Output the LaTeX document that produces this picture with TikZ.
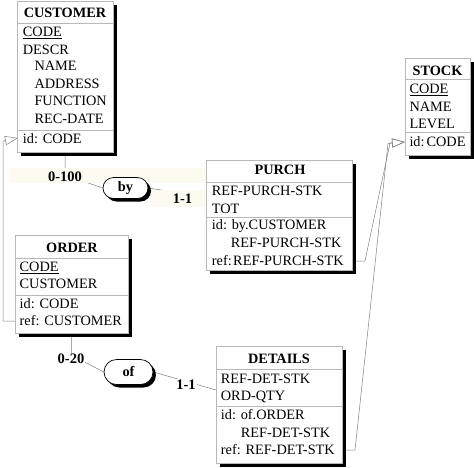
\documentclass[tikz,border=0pt]{standalone}
\usepackage{fontspec}
\setmainfont{Liberation Serif}
\usetikzlibrary{shadows,arrows.meta,shapes.misc,backgrounds}
\definecolor{boxgray}{gray}{0.72}
\definecolor{lingray}{gray}{0.5}
\definecolor{bandcol}{RGB}{253,250,242}
\begin{document}
\begin{tikzpicture}[x=1pt,y=-1pt,
  font=\fontsize{14.3}{17}\selectfont,
  ent/.style={draw=boxgray, fill=white, line width=0.6pt, anchor=north west, inner sep=0pt,
    drop shadow={shadow xshift=3.5pt, shadow yshift=-3.5pt, fill=black, opacity=1}},
  sepl/.style={draw=boxgray, line width=0.6pt},
  att/.style={anchor=base west, inner sep=0pt},
  ttl/.style={anchor=base, inner sep=0pt, font=\fontsize{14.3}{17}\selectfont\bfseries},
  rel/.style={rounded rectangle, draw=black, line width=0.7pt, fill=white, inner sep=0pt,
    font=\fontsize{14.3}{17}\selectfont\bfseries,
    drop shadow={shadow xshift=3pt, shadow yshift=-3pt, fill=black, opacity=1}},
  card/.style={font=\fontsize{14.5}{17}\selectfont\bfseries, inner sep=1pt, fill=white},
  conn/.style={draw=lingray, line width=0.5pt},
  isa/.style={-{Triangle[open, length=13pt, width=9pt]}}
]
\useasboundingbox (0,0) rectangle (474,467);

% ---------- CUSTOMER ----------
\node[ent, minimum width=96pt, minimum height=151pt] (cust) at (17,1) {};
\node[ttl] (custT) at (65,17.5) {CUSTOMER};
\draw[sepl] (17,23) -- (113,23);
\node[att] (custA1) at (22.7,36.5) {\underline{CODE}};
\node[att] (custA2) at (22.7,54.1) {DESCR};
\node[att] (custA3) at (34.3,70.8) {NAME};
\node[att] (custA4) at (34.3,88.1) {ADDRESS};
\node[att] (custA5) at (34.3,105.5) {FUNCTION};
\node[att] (custA6) at (34.3,123.1) {REC-DATE};
\draw[sepl] (17,130) -- (113,130);
\node[att] (custI) at (22.7,143.1) {id: CODE};

% ---------- ORDER ----------
\node[ent, minimum width=113pt, minimum height=98pt] (ord) at (15,235) {};
\node[ttl] (ordT) at (72,252.8) {ORDER};
\draw[sepl] (15,258) -- (128,258);
\node[att] (ordA1) at (19.5,271.5) {\underline{CODE}};
\node[att] (ordA2) at (19.5,288.8) {CUSTOMER};
\draw[sepl] (15,295) -- (128,295);
\node[att] (ordI) at (19.5,308.1) {id: CODE};
\node[att] (ordR) at (19.5,325.5) {ref: CUSTOMER};

% ---------- PURCH ----------
\node[ent, minimum width=146pt, minimum height=110pt] (pur) at (206,160) {};
\node[ttl] (purT) at (280,174.8) {PURCH};
\draw[sepl] (206,182) -- (352,182);
\node[att] (purA1) at (211.7,195.5) {REF-PURCH-STK};
\node[att] (purA2) at (211.7,213.1) {TOT};
\draw[sepl] (206,217.3) -- (352,217.3);
\node[att] (purI1) at (211.7,229.8) {id: by.CUSTOMER};
\node[att] (purI2) at (230.7,247.8) {REF-PURCH-STK};
\node[att] (purR) at (211.7,265.5) {ref:\hspace{1.5pt}REF-PURCH-STK};

% ---------- STOCK ----------
\node[ent, minimum width=65pt, minimum height=97pt] (stk) at (405,58) {};
\node[ttl] (stkT) at (437.5,75.5) {STOCK};
\draw[sepl] (405,79.3) -- (470,79.3);
\node[att] (stkA1) at (409.3,93.5) {\underline{CODE}};
\node[att] (stkA2) at (409.3,111.5) {NAME};
\node[att] (stkA3) at (409.3,128.1) {LEVEL};
\draw[sepl] (405,132) -- (470,132);
\node[att] (stkI) at (409.3,146.5) {id:\hspace{2pt}CODE};

% ---------- DETAILS ----------
\node[ent, minimum width=126pt, minimum height=117pt] (det) at (216,346) {};
\node[ttl] (detT) at (279,363.1) {DETAILS};
\draw[sepl] (216,369.3) -- (342,369.3);
\node[att] (detA1) at (220.7,383.1) {REF-DET-STK};
\node[att] (detA2) at (220.7,400.8) {ORD-QTY};
\draw[sepl] (216,406) -- (342,406);
\node[att] (detI1) at (220.7,419.1) {id: of.ORDER};
\node[att] (detI2) at (240.7,437.5) {REF-DET-STK};
\node[att] (detR) at (220.7,454.8) {ref: REF-DET-STK};

% ---------- relationships ----------
\node[rel, minimum width=45pt, minimum height=21pt] (by) at (125.5,188) {by};
\node[rel, minimum width=49pt, minimum height=25pt] (of) at (128.5,372) {of};

% connector end points
\coordinate (purIn) at (206,197);
\coordinate (detIn) at (216,390);
\coordinate (ordRef) at (15,321);
\coordinate (custId) at (18,138);
\coordinate (purRef) at (352,261);
\coordinate (detRef) at (342,450);
\coordinate (stkId) at (405,142);

\begin{scope}[on background layer]
  \draw[conn] (cust.south) -- (65,175) -- (by.west);
  \draw[conn] (by.east) -- (purIn);
  \draw[conn] (ord.south) -- (71.5,355) -- (of.west);
  \draw[conn] (of.east) -- (detIn);
  \draw[conn, isa] (ordRef) -- (3,321) -- (3,141) -- (custId);
  \draw[conn, isa] (purRef) -- (365,261) -- (390,143) -- (stkId);
  \draw[conn, isa] (detRef) -- (355,450) -- (388,143.5) -- (stkId);
  \fill[bandcol] (10,168) rectangle (206,183);
  \fill[bandcol] (150,190) rectangle (206,207);
\end{scope}

% ---------- cardinalities ----------
\node[card, fill=bandcol] (c1) at (65,177) {0-100};
\node[card, fill=bandcol] (c2) at (182.5,199) {1-1};
\node[card] (c3) at (71,359) {0-20};
\node[card] (c4) at (186,385) {1-1};
\end{tikzpicture}
\end{document}
